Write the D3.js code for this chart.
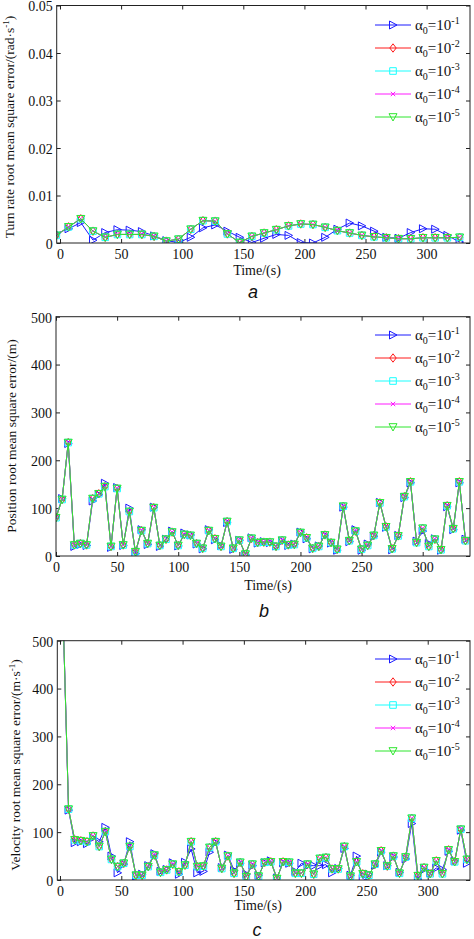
<!DOCTYPE html>
<html>
<head>
<meta charset="utf-8">
<script src="https://cdn.jsdelivr.net/npm/d3@7"></script>
<style>
	body { margin: 0; background: white; }
	svg { display: block; }
	.tick text { font-family: "Liberation Serif", "Times New Roman", serif; font-size: 14px; fill: #111; }
	.tick line { stroke: #222; }
</style>
</head>
<body>
<script>
var width = 474;
var height = 939;

// legend exponents for alpha_0 = 10^-k
var legendExponents = ["-1", "-2", "-3", "-4", "-5"];
var seriesColors = ["#1a1aff", "#ff1a1a", "#1affff", "#ff1aff", "#2ee62e"];

// panel a : turn rate
var timeA = [-3, 7, 17, 27, 37, 47, 57, 67, 77, 87, 97, 107, 117, 127, 137, 147, 157,
	167, 177, 187, 197, 207, 217, 227, 237, 247, 257, 267, 277, 287, 297, 307, 317, 327];
var turnBlue = [0.0020, 0.0030, 0.0043, 0.0006, 0.0022, 0.0028, 0.0027, 0.0024, 0.0015, 0.0005,
	0.0001, 0.0012, 0.0032, 0.0038, 0.0025, 0.0012, 0.0001, 0.0010, 0.0018, 0.0016, 0.0001, 0.0000,
	0.0012, 0.0029, 0.0042, 0.0036, 0.0025, 0.0012, 0.0010, 0.0022, 0.0030, 0.0029, 0.0016, 0.0002];
var turnRest = [0.0016, 0.0034, 0.0051, 0.0025, 0.0012, 0.0018, 0.0018, 0.0018, 0.0014, 0.0004,
	0.0008, 0.0029, 0.0047, 0.0046, 0.0019, 0.0001, 0.0014, 0.0021, 0.0028, 0.0036, 0.0040, 0.0039,
	0.0033, 0.0026, 0.0021, 0.0016, 0.0013, 0.0011, 0.0009, 0.0009, 0.0011, 0.0011, 0.0011, 0.0012];
var ticksA = [0, 0.01, 0.02, 0.03, 0.04, 0.05];

// panel b : position
var timeB = [0, 5, 10, 15, 20, 25, 30, 35, 40, 45, 50, 55, 60, 65, 70, 75, 80, 85, 90, 95,
	100, 105, 110, 115, 120, 125, 130, 135, 140, 145, 150, 155, 160, 165, 170, 175, 180, 185, 190, 195,
	200, 205, 210, 215, 220, 225, 230, 235, 240, 245, 250, 255, 260, 265, 270, 275, 280, 285, 290, 295,
	300, 305, 310, 315, 320, 325, 330, 335];
var positionBlue = [82, 120, 235, 20, 24, 22, 115, 128, 152, 18, 143, 22, 100, 5, 55, 24, 102, 20, 35, 52,
	21, 48, 44, 25, 15, 55, 34, 22, 70, 14, 33, 2, 38, 27, 30, 28, 21, 31, 22, 25,
	50, 36, 15, 21, 43, 27, 12, 102, 30, 55, 12, 25, 41, 112, 60, 13, 43, 122, 153, 31,
	52, 26, 36, 12, 103, 55, 153, 35];
var positionRest = [80, 118, 237, 23, 26, 23, 120, 130, 145, 20, 141, 23, 93, 9, 53, 26, 101, 22, 35, 50,
	22, 45, 43, 26, 16, 53, 36, 20, 72, 16, 33, 4, 37, 28, 29, 29, 20, 33, 23, 24,
	49, 38, 16, 20, 44, 28, 14, 104, 32, 52, 14, 22, 43, 111, 61, 15, 42, 124, 155, 28,
	58, 20, 35, 13, 105, 57, 155, 32];
var ticksBC = [0, 100, 200, 300, 400, 500];

// panel c : velocity
var timeC = [2, 7, 12, 17, 22, 27, 32, 37, 42, 47, 52, 57, 62, 67, 72, 77, 82, 87, 92, 97,
	102, 107, 112, 117, 122, 127, 132, 137, 142, 147, 152, 157, 162, 167, 172, 177, 182, 187, 192, 197,
	202, 207, 212, 217, 222, 227, 232, 237, 242, 247, 252, 257, 262, 267, 272, 277, 282, 287, 292, 297,
	302, 307, 312, 317, 322, 327, 332];
var velocityBlue = [600, 146, 78, 80, 76, 88, 80, 110, 50, 15, 33, 80, 8, 12, 30, 55, 18, 22, 36, 12,
	37, 65, 15, 18, 58, 78, 26, 52, 20, 35, 12, 30, 10, 36, 40, 4, 36, 35, 18, 35,
	30, 30, 30, 32, 15, 24, 66, 10, 50, 3, 12, 30, 58, 30, 48, 16, 44, 118, 2, 22,
	15, 25, 22, 60, 40, 104, 35];
var velocityRest = [600, 148, 84, 82, 80, 92, 70, 101, 43, 28, 35, 70, 10, 10, 28, 52, 16, 21, 33, 17,
	31, 80, 28, 29, 68, 80, 24, 50, 14, 37, 7, 33, 8, 37, 38, 3, 38, 37, 14, 14,
	33, 12, 45, 47, 23, 23, 70, 8, 38, 13, 10, 33, 61, 29, 50, 14, 48, 129, 9, 26,
	13, 40, 13, 63, 38, 106, 43];

var xTicks = [0, 50, 100, 150, 200, 250, 300];

var panels = [
	{ id: "a", times: timeA, blue: turnBlue, rest: turnRest, yTicks: ticksA,
		fmt: function(d) { return d === 0 ? "0" : d3.format(".2f")(d); },
		x0: 56.7, x1: 470, y0: 5.5, y1: 243, tMin: -2.7, tMax: 335.5,
		title: "Turn rate root mean square error/(rad·s", sup: "-1", titleEnd: ")",
		titleX: 14, titleY: 127, timeX: 257, timeY: 275, cap: "a", capX: 253, capY: 298, legendY: 25 },
	{ id: "b", times: timeB, blue: positionBlue, rest: positionRest, yTicks: ticksBC,
		fmt: function(d) { return d3.format("d")(d); },
		x0: 56, x1: 470, y0: 316.7, y1: 556, tMin: 0, tMax: 338.7,
		title: "Position root mean square error/(m)", sup: null, titleEnd: "",
		titleX: 15.5, titleY: 436, timeX: 268, timeY: 590, cap: "b", capX: 264, capY: 617, legendY: 335 },
	{ id: "c", times: timeC, blue: velocityBlue, rest: velocityRest, yTicks: ticksBC,
		fmt: function(d) { return d3.format("d")(d); },
		x0: 57.3, x1: 470, y0: 640.7, y1: 880, tMin: -2.2, tMax: 334.5,
		title: "Velocity root mean square error/(m·s", sup: "-1", titleEnd: ")",
		titleX: 19.5, titleY: 765, timeX: 258, timeY: 910, cap: "c", capX: 257, capY: 936, legendY: 659 }
];

// marker shapes in the matlab style, unfilled
var markerPaths = [
	"M-3.5,-4L4,0L-3.5,4Z",
	"M0,-4.2L3.2,0L0,4.2L-3.2,0Z",
	"M-3.3,-3.3H3.3V3.3H-3.3Z",
	"M-2.2,-2.2L2.2,2.2M-2.2,2.2L2.2,-2.2",
	"M-4,-3.3L4,-3.3L0,4Z"
];

var svg = d3.select("body")
	.append("svg")
	.attr("width", width)
	.attr("height", height);

svg.append("rect")
	.attr("width", width)
	.attr("height", height)
	.attr("fill", "white");

panels.forEach(drawPanel);

function drawPanel(p) {
	var x = d3.scaleLinear().domain([p.tMin, p.tMax]).range([p.x0, p.x1]);
	var y = d3.scaleLinear().domain([0, p.yTicks[p.yTicks.length - 1]]).range([p.y1, p.y0]);
	var g = svg.append("g").attr("class", "panel-" + p.id);

	svg.append("clipPath")
		.attr("id", "clip-" + p.id)
		.append("rect")
		.attr("x", p.x0)
		.attr("y", p.y0)
		.attr("width", p.x1 - p.x0)
		.attr("height", p.y1 - p.y0);

	// axes with inward ticks on all four sides
	g.append("g")
		.attr("transform", "translate(0," + p.y1 + ")")
		.call(d3.axisBottom(x).tickValues(xTicks).tickSize(-4).tickPadding(6))
		.call(function(a) { a.select(".domain").remove(); });
	g.append("g")
		.attr("transform", "translate(0," + p.y0 + ")")
		.call(d3.axisTop(x).tickValues(xTicks).tickSize(-4).tickFormat(""))
		.call(function(a) { a.select(".domain").remove(); });
	g.append("g")
		.attr("transform", "translate(" + p.x0 + ",0)")
		.call(d3.axisLeft(y).tickValues(p.yTicks).tickSize(-4).tickPadding(4).tickFormat(p.fmt))
		.call(function(a) {
			a.select(".domain").remove();
			a.selectAll("text").attr("dy", "0.38em");
		});
	g.append("g")
		.attr("transform", "translate(" + p.x1 + ",0)")
		.call(d3.axisRight(y).tickValues(p.yTicks).tickSize(-4).tickFormat(""))
		.call(function(a) { a.select(".domain").remove(); });

	var series = [p.blue, p.rest, p.rest, p.rest, p.rest];
	var line = d3.line()
		.x(function(d) { return x(d[0]); })
		.y(function(d) { return y(d[1]); });

	var plot = g.append("g").attr("clip-path", "url(#clip-" + p.id + ")");
	series.forEach(function(vals, i) {
		var pts = p.times.map(function(t, j) { return [t, vals[j]]; });
		plot.append("path")
			.datum(pts)
			.attr("d", line)
			.attr("fill", "none")
			.attr("stroke", seriesColors[i])
			.attr("stroke-width", 1);
		plot.selectAll(".m" + i)
			.data(pts)
			.enter()
			.append("path")
			.attr("class", "m" + i)
			.attr("d", markerPaths[i])
			.attr("transform", function(d) { return "translate(" + x(d[0]) + "," + y(d[1]) + ")"; })
			.attr("fill", "none")
			.attr("stroke", seriesColors[i])
			.attr("stroke-width", 1);
	});

	// box
	g.append("rect")
		.attr("x", p.x0)
		.attr("y", p.y0)
		.attr("width", p.x1 - p.x0)
		.attr("height", p.y1 - p.y0)
		.attr("fill", "none")
		.attr("stroke", "#222")
		.attr("stroke-width", 1);

	// legend
	var leg = g.append("g");
	legendExponents.forEach(function(e, i) {
		var ly = p.legendY + i * 23;
		leg.append("line")
			.attr("x1", 375).attr("x2", 411)
			.attr("y1", ly).attr("y2", ly)
			.attr("stroke", seriesColors[i]);
		leg.append("path")
			.attr("d", markerPaths[i])
			.attr("transform", "translate(393," + ly + ")")
			.attr("fill", "none")
			.attr("stroke", seriesColors[i]);
		var txt = leg.append("text")
			.attr("x", 415)
			.attr("y", ly + 5)
			.style("font-family", "'Liberation Serif', 'Times New Roman', serif")
			.style("font-size", "15px")
			.attr("fill", "#111");
		txt.append("tspan").text("α");
		txt.append("tspan").attr("dy", 4).style("font-size", "10px").text("0");
		txt.append("tspan").attr("dy", -4).text("=10");
		txt.append("tspan").attr("dy", -6).style("font-size", "10px").text(e);
	});

	// y title
	var yt = g.append("text")
		.attr("transform", "translate(" + p.titleX + "," + p.titleY + ") rotate(-90)")
		.attr("text-anchor", "middle")
		.style("font-family", "'Liberation Serif', 'Times New Roman', serif")
		.style("font-size", "13.5px")
		.attr("fill", "#111");
	yt.append("tspan").text(p.title);
	if (p.sup) {
		yt.append("tspan").attr("dy", -5).style("font-size", "9px").text(p.sup);
		yt.append("tspan").attr("dy", 5).text(p.titleEnd);
	}

	g.append("text")
		.attr("x", p.timeX)
		.attr("y", p.timeY)
		.attr("text-anchor", "middle")
		.style("font-family", "'Liberation Serif', 'Times New Roman', serif")
		.style("font-size", "14px")
		.attr("fill", "#111")
		.text("Time/(s)");

	g.append("text")
		.attr("x", p.capX)
		.attr("y", p.capY)
		.attr("text-anchor", "middle")
		.style("font-family", "'Liberation Sans', Arial, sans-serif")
		.style("font-style", "italic")
		.style("font-size", "18px")
		.attr("fill", "#111")
		.text(p.cap);
}
</script>
</body>
</html>
